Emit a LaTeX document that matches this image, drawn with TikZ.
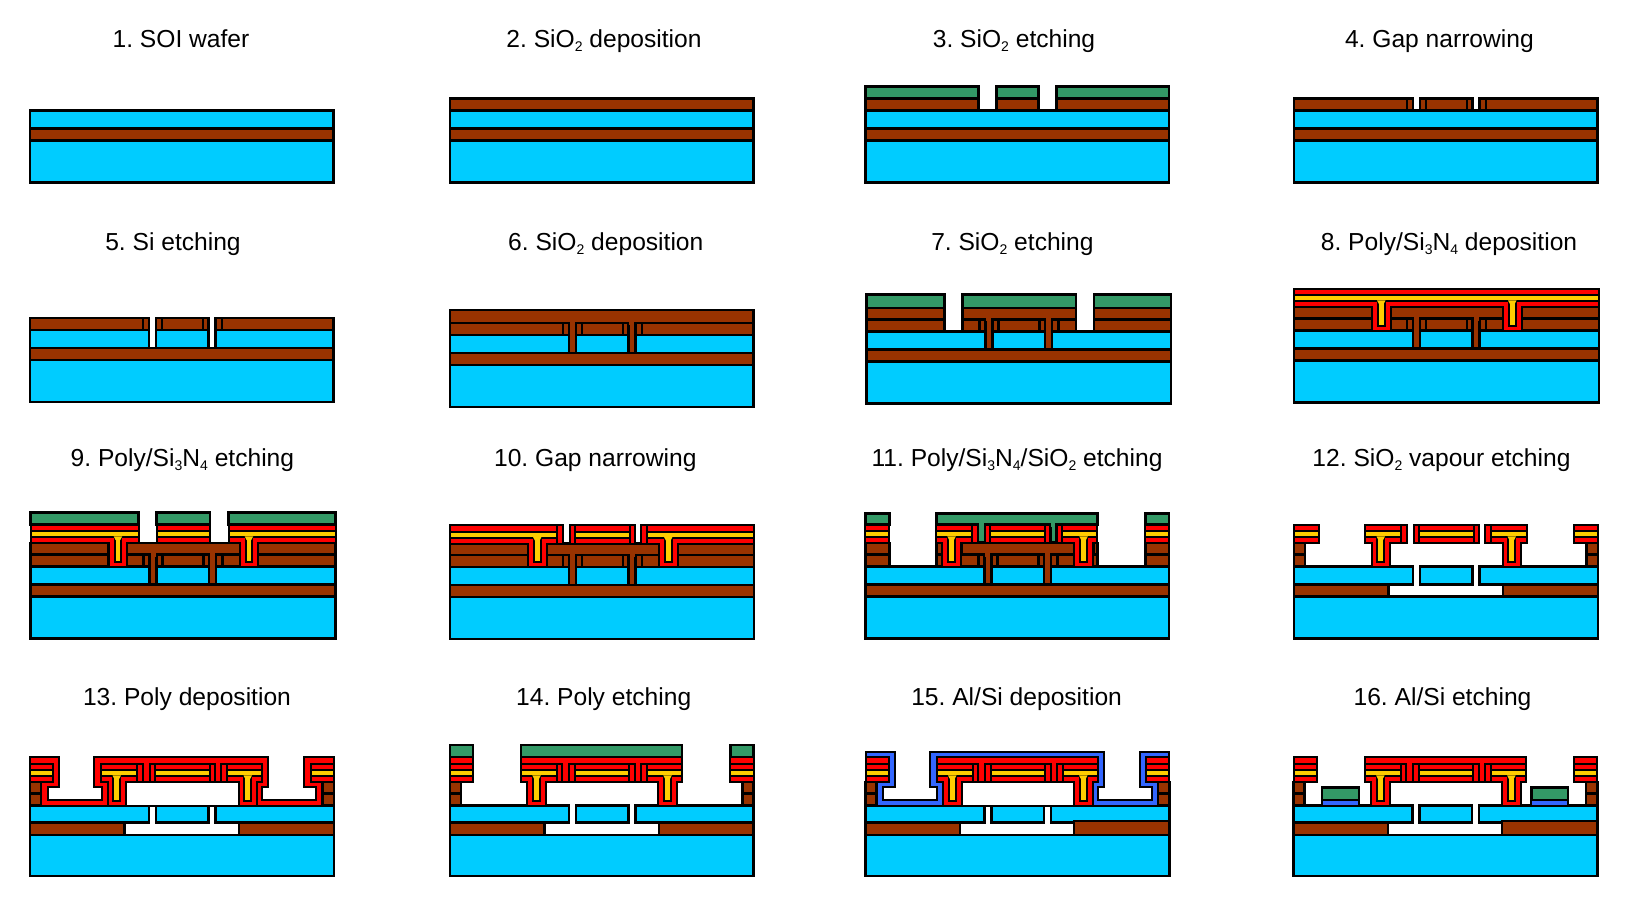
\documentclass[tikz,border=0pt]{standalone}
\usepackage{fontspec}
\setmainfont{Liberation Sans}
\frenchspacing
\definecolor{sicolor}{HTML}{00CCFF}
\definecolor{oxcolor}{HTML}{993300}
\definecolor{maskcolor}{HTML}{339966}
\definecolor{polycolor}{HTML}{FF0000}
\definecolor{nitcolor}{HTML}{FFCC00}
\definecolor{alcolor}{HTML}{3366FF}

\newcommand{\pw}{303.5}
\newcommand{\devbot}{18}
\newcommand{\boxbot}{30}
\newcommand{\subbot}{72}
\newcommand{\lowsub}[1]{\raisebox{-0.3ex}{\fontsize{7}{7}\selectfont #1}}

% wafer
\newcommand{\waferbase}{%
  \draw[silayer] (0,\boxbot) rectangle (\pw,\subbot);
  \draw[oxlayer] (0,\devbot) rectangle (\pw,\boxbot);}
\newcommand{\etchbase}{%
  \draw[silayer] (0,\boxbot) rectangle (\pw,\subbot);
  \draw[oxlayer] (0,\devbot) rectangle (94.5,\boxbot);
  \draw[oxlayer] (209,\devbot) rectangle (\pw,\boxbot);}
\newcommand{\devsolid}{\draw[silayer] (0,0) rectangle (\pw,\devbot);}
\newcommand{\devcut}{%
  \foreach \ua/\ub in {0/119,126/178.5,185.5/\pw}
    \draw[silayer] (\ua,0) rectangle (\ub,\devbot);}

% oxide
\newcommand{\oxcut}{%
  \foreach \ua/\ub in {0/119,126/178.5,185.5/\pw}
    \draw[oxlayer] (\ua,-12) rectangle (\ub,0);
  \spacerlines}
\newcommand{\spacerlines}{%
  \foreach \ua in {113,132,173,192}
    \draw[edgeline] (\ua,-12) -- (\ua,0);}
\newcommand{\plugs}{%
  \foreach \ua/\ub in {119/126,178.5/185.5}{
    \draw[oxlayer] (\ua,-12) rectangle (\ub,\devbot);
    \fill[oxcolor] (\ua+1,-13.5) rectangle (\ub-1,-10);}}
\newcommand{\oxsegs}[2]{%
  \foreach \ua/\ub in {0/78,96/209.5,227.5/\pw}
    \draw[oxlayer] (\ua,#1) rectangle (\ub,#2);}
\newcommand{\stubs}{%
  \foreach \ua/\ub in {0/11,292.5/\pw}{
    \draw[oxlayer] (\ua,-23.5) rectangle (\ub,-12);
    \draw[oxlayer] (\ua,-12) rectangle (\ub,0);}}

% poly / nitride stack
\newcommand{\polyrows}[2]{%
  \draw[polylayer] (#1,-42) rectangle (#2,-35.5);
  \draw[nitlayer] (#1,-35.5) rectangle (#2,-29.5);
  \draw[polylayer] (#1,-29.5) rectangle (#2,-23.5);}
\newcommand{\narrowrows}[2]{%
  \polyrows{#1}{107}
  \polyrows{125}{179.5}
  \polyrows{197}{#2}
  \foreach \ua/\ub in {107/112.5,119.5/125,179.5/185,191/197}
    \draw[polylayer] (\ua,-42) rectangle (\ub,-23.5);}
\newcommand{\dimple}[1]{%
  \draw[polylayer] (#1,-23.5) rectangle ++(18.5,23.5);
  \fill[polycolor] (#1+1,-24.7) rectangle ++(16.5,2.4);
  \draw[nitlayer] (#1+5.8,-29.5) -- (#1+5.8,-5) -- (#1+12.7,-5) -- (#1+12.7,-29.5);
  \fill[nitcolor] (#1+5,-30.3) -- (#1+13.5,-30.3) -- (#1+11.5,-26.5) -- (#1+7,-26.5) -- cycle;}
\newcommand{\stackrows}{%
  \polyrows{0}{23}
  \polyrows{280.5}{\pw}
  \narrowrows{71}{232}
  \dimple{77.5}
  \dimple{208.5}}
\newcommand{\capped}{%
  \foreach \ua/\ub in {0/23,71/232,280.5/\pw}
    \draw[polylayer] (\ua,-48.5) rectangle (\ub,-23.5);
  \stackrows}
\newcommand{\capoutline}[1]{(0,#1) -- (29,#1) -- (29,-19) -- (17.6,-19) -- (17.6,-6)
  -- (71.5,-6) -- (71.5,-19) -- (64.2,-19) -- (64.2,#1) -- (238,#1) -- (238,-19)
  -- (232,-19) -- (232,-6) -- (286,-6) -- (286,-19) -- (274.3,-19) -- (274.3,#1)
  -- (\pw,#1) -- (\pw,0) -- (0,0) -- cycle}

\begin{document}
\begin{tikzpicture}[
  x=0.5pt, y=-0.5pt,
  layer/.style={draw=black, line width=1.25pt, line join=miter},
  thinlayer/.style={draw=black, line width=1pt, line join=miter},
  silayer/.style={layer, fill=sicolor},
  oxlayer/.style={layer, fill=oxcolor},
  masklayer/.style={layer, fill=maskcolor},
  polylayer/.style={thinlayer, fill=polycolor},
  nitlayer/.style={thinlayer, fill=nitcolor},
  allayer/.style={thinlayer, fill=alcolor},
  voidlayer/.style={thinlayer, fill=white},
  edgeline/.style={draw=black, line width=1.25pt},
  panel/.style={shift={(#1)}},
  steptitle/.style={anchor=base, inner sep=0pt, font=\fontsize{12.3}{14}\selectfont}
]
\useasboundingbox (0,0) rectangle (1639,913);

\foreach \tx/\ty/\tname [count=\i] in {
  181/48/{1. SOI wafer},
  604/48/{2. SiO\lowsub{2} deposition},
  1014/48/{3. SiO\lowsub{2} etching},
  1439.4/48/{4. Gap narrowing},
  173/251/{5. Si etching},
  605.8/251/{6. SiO\lowsub{2} deposition},
  1012.4/251/{7. SiO\lowsub{2} etching},
  1449/251/{8. Poly/Si\lowsub{3}N\lowsub{4} deposition},
  182.4/467/{9. Poly/Si\lowsub{3}N\lowsub{4} etching},
  595.3/467/{10. Gap narrowing},
  1017/467/{11. Poly/Si\lowsub{3}N\lowsub{4}/SiO\lowsub{2} etching},
  1441.5/467/{12. SiO\lowsub{2} vapour etching},
  187/705.5/{13. Poly deposition},
  603.7/705.5/{14. Poly etching},
  1016.6/705.5/{15. Al/Si deposition},
  1442.5/705.5/{16. Al/Si etching}}
  \node[steptitle] (title\i) at (\tx,\ty) {\tname};

% 1
\begin{scope}[panel={30,110.7}]
  \waferbase \devsolid
\end{scope}
% 2
\begin{scope}[panel={450.2,110.7}]
  \waferbase \devsolid
  \draw[oxlayer] (0,-12) rectangle (\pw,0);
\end{scope}
% 3
\begin{scope}[panel={865.7,110.7}]
  \waferbase \devsolid
  \foreach \ua/\ub in {0/113,131/173,191/\pw}{
    \draw[oxlayer] (\ua,-12) rectangle (\ub,0);
    \draw[masklayer] (\ua,-24) rectangle (\ub,-12);}
\end{scope}
% 4
\begin{scope}[panel={1293.8,110.7}]
  \waferbase \devsolid \oxcut
\end{scope}
% 5
\begin{scope}[panel={30,329.8}]
  \waferbase \devcut \oxcut
\end{scope}
% 6
\begin{scope}[panel={449.8,334.8}]
  \waferbase \devcut \oxcut
  \draw[oxlayer] (0,-25) rectangle (\pw,-12);
  \plugs
\end{scope}
\renewcommand{\pw}{304.8}
% 7
\begin{scope}[panel={866.3,331.3}]
  \waferbase \devcut
  \oxsegs{-12}{0} \oxsegs{-23.5}{-12}
  \spacerlines \plugs
  \oxsegs{-36.7}{-23.5}
  \foreach \ua/\ub in {0/78,96/209.5,227.5/\pw}
    \draw[masklayer] (\ua,-36.7) rectangle (\ub,-23.5);
\end{scope}
% 8
\begin{scope}[panel={1294,330.7}]
  \waferbase \devcut
  \oxsegs{-12}{0} \oxsegs{-23.5}{-12}
  \spacerlines \plugs
  \polyrows{0}{\pw}
  \dimple{78} \dimple{209}
\end{scope}
% 9
\begin{scope}[panel={30.7,566.7}]
  \waferbase \devcut
  \oxsegs{-12}{0} \oxsegs{-23.5}{-12}
  \spacerlines \plugs
  \foreach \ua/\ub in {0/108,126/179.5,198/\pw}{
    \polyrows{\ua}{\ub}
    \draw[masklayer] (\ua,-54) rectangle (\ub,-42);}
  \dimple{78} \dimple{209}
\end{scope}
\renewcommand{\pw}{303.8}
% 10
\begin{scope}[panel={450,567.2}]
  \waferbase \devcut
  \oxsegs{-12}{0} \oxsegs{-23.5}{-12}
  \spacerlines \plugs
  \narrowrows{0}{\pw}
  \dimple{78} \dimple{209}
\end{scope}
% 11
\begin{scope}[panel={865.3,566.7}]
  \waferbase \devcut
  \foreach \ua/\ub in {0/24,71/232,280/\pw}
    \draw[oxlayer] (\ua,-12) rectangle (\ub,0);
  \foreach \ua/\ub in {0/24,71/77,96/209,228/232,280/\pw}
    \draw[oxlayer] (\ua,-23.5) rectangle (\ub,-12);
  \spacerlines \plugs
  \polyrows{0}{24}
  \polyrows{280}{\pw}
  \narrowrows{71}{232}
  \dimple{77} \dimple{209}
  \foreach \ua/\ub in {0/24,71/232,280/\pw}
    \draw[masklayer] (\ua,-53) rectangle (\ub,-42);
  \foreach \ua/\ub in {112.5/119.5,185/191}{
    \draw[masklayer] (\ua,-42) rectangle (\ub,-24);
    \fill[maskcolor] (\ua+1,-43.5) rectangle (\ub-1,-40);}
\end{scope}
% 12
\begin{scope}[panel={1294,566.7}]
  \etchbase \devcut \stubs
  \polyrows{0}{24.5}
  \polyrows{280}{\pw}
  \narrowrows{70.5}{232.7}
  \dimple{77.5} \dimple{208.5}
\end{scope}

\renewcommand{\devbot}{17}
\renewcommand{\boxbot}{29.3}
\renewcommand{\subbot}{70.3}
% 13
\begin{scope}[panel={30,805.7}]
  \etchbase \devcut
  \draw[polylayer] \capoutline{-49};
  \draw[voidlayer] (96,-23.5) rectangle (209,0);
  \stubs \stackrows
\end{scope}
% 14
\begin{scope}[panel={449.8,805.7}]
  \etchbase \devcut \stubs \capped
  \foreach \ua/\ub in {0/23,71/232,280.5/\pw}
    \draw[masklayer] (\ua,-60.5) rectangle (\ub,-48.5);
\end{scope}
% 15
\begin{scope}[panel={865.5,805.7}]
  \etchbase \devcut
  \draw[oxlayer] (208.5,15.5) rectangle (\pw,\boxbot);
  \draw[allayer] \capoutline{-54};
  \draw[voidlayer] (95.5,-23.5) rectangle (208,0);
  \stubs \capped
\end{scope}
% 16
\begin{scope}[panel={1293.6,805.7}]
  \etchbase \devcut
  \draw[oxlayer] (208.5,15.5) rectangle (\pw,\boxbot);
  \stubs \capped
  \foreach \ua/\ub in {28.5/65.3,237.7/274.3}{
    \draw[masklayer] (\ua,-18.3) rectangle (\ub,-5.5);
    \draw[allayer] (\ua,-5.5) rectangle (\ub,0);}
\end{scope}
\end{tikzpicture}
\end{document}
